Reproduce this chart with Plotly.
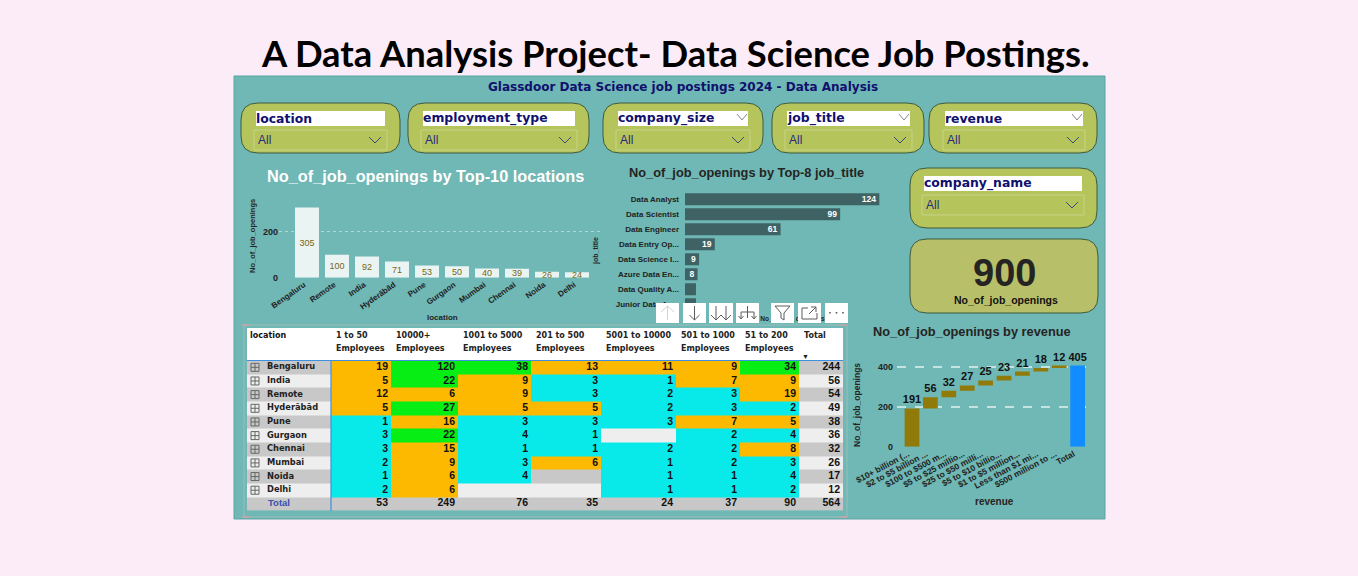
import plotly.graph_objects as go

W, H = 1358, 576

# location chart
locations = ['Bengaluru', 'Remote', 'India', 'Hyderābād', 'Pune', 'Gurgaon', 'Mumbai', 'Chennai', 'Noida', 'Delhi']
location_openings = [305, 100, 92, 71, 53, 50, 40, 39, 26, 24]

# job title chart
job_titles = ['Data Analyst', 'Data Scientist', 'Data Engineer', 'Data Entry Op...', 'Data Science I...',
              'Azure Data En...', 'Data Quality A...', 'Junior Data An...']
job_openings = [124, 99, 61, 19, 9, 8, 7, 7]

# revenue waterfall
revenue_labels = ['$10+ billion (...', '$2 to $5 billion ...', '$100 to $500 m...', '$5 to $25 millio...',
                  '$25 to $50 milli...', '$5 to $10 billio...', '$1 to $5 million...', 'Less than $1 mi...',
                  '$500 million to ...', 'Total']
revenue_openings = [191, 56, 32, 27, 25, 23, 21, 18, 12, 405]

# matrix
matrix_rows = ['Bengaluru', 'India', 'Remote', 'Hyderābād', 'Pune', 'Gurgaon', 'Chennai', 'Mumbai', 'Noida', 'Delhi']
matrix_cols = ['1 to 50', '10000+', '1001 to 5000', '201 to 500', '5001 to 10000', '501 to 1000', '51 to 200']
matrix_values = [
    [19, 120, 38, 13, 11, 9, 34],
    [5, 22, 9, 3, 1, 7, 9],
    [12, 6, 9, 3, 2, 3, 19],
    [5, 27, 5, 5, 2, 3, 2],
    [1, 16, 3, 3, 3, 7, 5],
    [3, 22, 4, 1, None, 2, 4],
    [3, 15, 1, 1, 2, 2, 8],
    [2, 9, 3, 6, 1, 2, 3],
    [1, 6, 4, None, 1, 1, 4],
    [2, 6, None, None, 1, 1, 2],
]
row_totals = [244, 56, 54, 49, 38, 36, 32, 26, 17, 12]
col_totals = [53, 249, 76, 35, 24, 37, 90]
grand_total = 564
total_openings = 900

# slicers: label, box left, box right, top, bottom, label left, label right, has chevron in header
slicers = [
    ('location', 241, 400, 103, 153, 256, 385, False),
    ('employment_type', 408, 589, 103, 153, 423, 575, False),
    ('company_size', 603, 763, 103, 153, 618, 748, True),
    ('job_title', 772, 924, 103, 153, 787, 910, True),
    ('revenue', 929, 1097, 103, 153, 945, 1083, True),
    ('company_name', 910, 1097, 168, 228, 924, 1082, False),
]

PAGE = '#fcecf8'
TEAL = '#6fb8b5'
SLICER = '#b5c55c'
NAVY = '#10106e'
INK = '#252423'
SANS = 'Liberation Sans'
WIDE = 'DejaVu Sans'


def fx(x):
    return x / W


def fy(y):
    return 1 - y / H


def rect(x0, y0, x1, y1, fill=None, line=None, width=1, layer='below', **kw):
    return dict(type='rect', xref='paper', yref='paper', x0=fx(x0), x1=fx(x1), y0=fy(y1), y1=fy(y0),
                fillcolor=fill or 'rgba(0,0,0,0)', line=dict(color=line, width=width if line else 0), layer=layer, **kw)


def poly(points, color, width=1, layer='below', close=False):
    d = 'M' + ' L'.join(f'{fx(x):.5f},{fy(y):.5f}' for x, y in points) + (' Z' if close else '')
    return dict(type='path', xref='paper', yref='paper', path=d, line=dict(color=color, width=width), layer=layer)


def rounded(x0, y0, x1, y1, r, fill, line):
    def p(x, y):
        return f'{fx(x):.5f},{fy(y):.5f}'
    d = (f'M{p(x0 + r, y0)} L{p(x1 - r, y0)} Q{p(x1, y0)} {p(x1, y0 + r)} L{p(x1, y1 - r)} Q{p(x1, y1)} {p(x1 - r, y1)} '
         f'L{p(x0 + r, y1)} Q{p(x0, y1)} {p(x0, y1 - r)} L{p(x0, y0 + r)} Q{p(x0, y0)} {p(x0 + r, y0)} Z')
    return dict(type='path', xref='paper', yref='paper', path=d, fillcolor=fill,
                line=dict(color=line, width=1), layer='below')


def note(x, y, text, size, color=INK, family=SANS, bold=True, anchor='center', angle=0):
    return dict(xref='paper', yref='paper', x=fx(x), y=fy(y), text=text, showarrow=False, textangle=angle,
                xanchor=anchor, yanchor='middle', align='left',
                font=dict(size=size, color=color, family=family, weight='bold' if bold else 'normal'))


def chevron(cx, cy, color, half=6):
    return poly([(cx - half, cy - 3), (cx, cy + 3), (cx + half, cy - 3)], color, 1)


shapes = [rect(234, 76, 1105, 519, fill=TEAL, line='#5aa6a3')]
annotations = [
    note(675, 52.5, 'A Data Analysis Project- Data Science Job Postings.', 36.4, '#000000', 'Lato'),
    note(683, 87, 'Glassdoor Data Science job postings 2024 - Data Analysis', 12, NAVY, WIDE),
    note(425, 176, 'No_of_job_openings by Top-10 locations', 16.3, '#ffffff'),
    note(746, 172, 'No_of_job_openings by Top-8 job_title', 12.8, INK),
    note(972, 331, 'No_of_job_openings by revenue', 12.8, INK),
    note(252, 236, 'No_of_job_openings', 7.5, INK, angle=-90),
    note(442, 317, 'location', 8, INK),
    note(596, 251, 'job_title', 7, INK, angle=-90),
    note(857, 405, 'No_of_job_openings', 8.5, INK, angle=-90),
    note(995, 501, 'revenue', 10, INK),
    note(1004, 273, str(total_openings), 38, INK),
    note(1006, 300, 'No_of_job_openings', 10.5, '#111111'),
]

for name, x0, x1, y0, y1, lx0, lx1, has_chev in slicers:
    shapes.append(rounded(x0, y0, x1, y1, 17, SLICER, '#3d5a40'))
    shapes.append(rect(lx0, y0 + 8, lx1, y0 + 23, fill='#ffffff'))
    shapes.append(rect(lx0 - 2, y0 + 27, lx1 + 2, y0 + 47, line='#c6d389', width=1))
    shapes.append(chevron(lx1 - 10, y0 + 37, '#3a4a7a'))
    if has_chev:
        shapes.append(chevron(lx1 - 6, y0 + 14, '#888888', 5))
    annotations.append(note(lx0 - 2, y0 + 15, name, 12.4, NAVY, WIDE, anchor='left'))
    annotations.append(note(lx0, y0 + 37, 'All', 12, '#2a2a7a', SANS, bold=False, anchor='left'))

shapes.append(rounded(910, 239, 1098, 313, 17, '#b7c068', '#3d5a40'))

# matrix header and frame
col_edges = [247, 331, 391, 458, 531, 601, 676, 740, 799, 843]
shapes.append(rect(247, 328, 843, 360, fill='#ffffff'))
annotations.append(note(248, 335.5, 'location', 8, '#111111', WIDE, anchor='left'))
for i, col in enumerate(matrix_cols):
    annotations.append(note(col_edges[i + 1] + 3, 335.5, col, 8, '#222222', WIDE, anchor='left'))
    annotations.append(note(col_edges[i + 1] + 3, 348, 'Employees', 8, '#222222', WIDE, anchor='left'))
annotations.append(note(802, 335.5, 'Total', 8, '#222222', WIDE, anchor='left'))
annotations.append(note(805, 356, '▼', 7, '#222222'))

rows_all = matrix_rows + ['Total']
row_index = list(range(len(rows_all)))
BAND_DARK, BAND_LIGHT, CYAN, ORANGE, GREEN = 0, 1, 2, 3, 4
cell_class = []
for r, row in enumerate(matrix_values):
    band = BAND_DARK if r % 2 == 0 else BAND_LIGHT
    line = [band]
    for v in row:
        if v is None:
            line.append(band)
        elif v >= 20:
            line.append(GREEN)
        elif v >= 5:
            line.append(ORANGE)
        else:
            line.append(CYAN)
    cell_class.append(line + [band])
cell_class.append([BAND_DARK] * 9)

cell_x, cell_y, cell_text = [], [], []
for r, row in enumerate(matrix_values + [col_totals]):
    row_total = (row_totals + [grand_total])[r]
    for c, v in enumerate(row + [row_total]):
        if v is not None:
            cell_x.append(col_edges[c + 2] - 3)
            cell_y.append(r)
            cell_text.append(str(v))

fig = go.Figure()

fig.add_trace(go.Bar(x=locations, y=location_openings, text=location_openings, textposition='inside',
                     insidetextanchor='middle', constraintext='none', textangle=0,
                     textfont=dict(size=9, color='#7a6510', family=SANS),
                     marker=dict(color='#e9f4f3', line=dict(width=0)), xaxis='x', yaxis='y'))

job_labels = [v if v >= 8 else '' for v in job_openings]
fig.add_trace(go.Bar(y=job_titles, x=job_openings, orientation='h', text=job_labels, textposition='inside',
                     insidetextanchor='end', constraintext='none', textangle=0,
                     textfont=dict(size=8.5, color='#ffffff', family=SANS, weight='bold'),
                     marker=dict(color='#3f6364', line=dict(width=0)), xaxis='x2', yaxis='y2'))

fig.add_trace(go.Waterfall(x=revenue_labels, y=revenue_openings, measure=['relative'] * 9 + ['total'],
                           text=revenue_openings, textposition='outside', cliponaxis=False,
                           textfont=dict(size=11, color='#111111', family=SANS, weight='bold'),
                           increasing=dict(marker=dict(color='#8f7a0a')),
                           totals=dict(marker=dict(color='#118dff')),
                           connector=dict(visible=False), constraintext='none', xaxis='x3', yaxis='y3'))

fig.add_trace(go.Heatmap(x=col_edges, y=[i - 0.5 for i in range(12)], z=cell_class, zmin=0, zmax=4, showscale=False,
                         hoverinfo='skip',
                         colorscale=[[0, '#c8c8c8'], [0.2, '#c8c8c8'], [0.2, '#eeeeee'], [0.4, '#eeeeee'],
                                     [0.4, '#08eaea'], [0.6, '#08eaea'], [0.6, '#fcb900'], [0.8, '#fcb900'],
                                     [0.8, '#06ee14'], [1, '#06ee14']],
                         xaxis='x4', yaxis='y4'))
fig.add_trace(go.Scatter(x=cell_x, y=cell_y, text=cell_text, mode='text', textposition='middle left',
                         textfont=dict(size=10.5, color='#111111', family=SANS, weight='bold'),
                         hoverinfo='skip', cliponaxis=False, xaxis='x4', yaxis='y4'))
fig.add_trace(go.Scatter(x=[267] * 10, y=row_index[:10], text=matrix_rows, mode='text', textposition='middle right',
                         textfont=dict(size=8.3, color='#222222', family=WIDE, weight='bold'),
                         hoverinfo='skip', cliponaxis=False, xaxis='x4', yaxis='y4'))
fig.add_trace(go.Scatter(x=[279], y=[10], text=['Total'], mode='text', textposition='middle center',
                         textfont=dict(size=9.5, color='#3a4fb0', family=SANS, weight='bold'),
                         hoverinfo='skip', cliponaxis=False, xaxis='x4', yaxis='y4'))
fig.add_trace(go.Scatter(x=[255] * 10, y=row_index[:10], mode='markers',
                         marker=dict(symbol='square-cross-open', size=8, color='#666666', line=dict(width=1, color='#666666')),
                         hoverinfo='skip', xaxis='x4', yaxis='y4'))

# pane selection frame
FRAME = '#9cbcb8'
shapes.append(rect(244, 325, 847, 517, line=FRAME, layer='above'))
for cx, cy in [(244, 325), (841, 325), (244, 517), (841, 517)]:
    shapes.append(rect(cx - 2, cy - 1, cx + 6, cy + 1, fill='#b9a9ae', layer='above'))
shapes.append(poly([(247, 360.5), (843, 360.5)], '#3f8fe0', 1.2, layer='above'))
shapes.append(poly([(331, 360.5), (331, 511)], '#3f8fe0', 1.2, layer='above'))

# x title of the job chart sits under the hover toolbar, so it is a shape label
shapes.append(dict(type='rect', xref='paper', yref='paper', x0=fx(755), x1=fx(830), y0=fy(323), y1=fy(313), layer='above',
                   line=dict(width=0), fillcolor='rgba(0,0,0,0)',
                   label=dict(text='No_of_job_openings', textposition='middle center',
                              font=dict(size=6.5, color=INK, family=SANS, weight='bold'))))

# hover toolbar
ICON = '#5c5c5c'
toolbar_slots = [(656, 679), (683, 706), (709, 733), (736, 759), (771, 794), (798, 821), (825, 848)]
for a, b in toolbar_slots:
    shapes.append(rect(a, 303, b, 323, fill='#ffffff', layer='above'))


def arrow_down(cx, color):
    return [poly([(cx, 306), (cx, 320)], color, 1, 'above'), poly([(cx - 5, 315), (cx, 320), (cx + 5, 315)], color, 1, 'above')]


shapes += [poly([(667.5, 320), (667.5, 306)], '#d4d4d4', 1, 'above'),
           poly([(661, 312), (667.5, 306), (674, 312)], '#d4d4d4', 1, 'above')]
shapes += arrow_down(694.5, ICON)
shapes += arrow_down(716, ICON) + arrow_down(726, ICON)
shapes += [poly([(747.5, 306), (747.5, 318)], ICON, 1, 'above'), poly([(741, 318), (741, 312), (754, 312), (754, 318)], ICON, 1, 'above'),
           poly([(738.5, 316), (741, 319), (743.5, 316)], ICON, 1, 'above'), poly([(751.5, 316), (754, 319), (756.5, 316)], ICON, 1, 'above')]
shapes.append(poly([(775, 306), (790, 306), (784, 313), (784, 320), (781, 318), (781, 313)], ICON, 1, 'above', close=True))
shapes += [poly([(808, 308), (802, 308), (802, 319), (817, 319), (817, 313)], ICON, 1, 'above'),
           poly([(809, 314), (816, 307)], ICON, 1, 'above'), poly([(811, 307), (816, 307), (816, 312)], ICON, 1, 'above')]
for dx in (830, 836.5, 843):
    shapes.append(rect(dx - 0.8, 312, dx + 0.8, 313.6, fill=ICON, layer='above'))

axis_font = dict(size=8, color='#222222', family=SANS, weight='bold')
value_font = dict(size=9, color='#222222', family=SANS, weight='bold')
grid_dot = dict(showgrid=True, gridcolor='rgba(255,255,255,0.45)', griddash='dot', gridwidth=1, zeroline=False, showline=False)

fig.update_layout(
    width=W, height=H, margin=dict(l=0, r=0, t=0, b=0), autosize=False, showlegend=False,
    paper_bgcolor=PAGE, plot_bgcolor='rgba(0,0,0,0)', bargap=0.2,
    shapes=shapes, annotations=annotations,
    xaxis=dict(domain=[fx(279), fx(600)], range=[-0.933, 9.767], anchor='y', tickangle=-35, tickfont=axis_font,
               ticklabelshift=-3, showgrid=False, zeroline=False, showline=False, ticks='', automargin=False),
    yaxis=dict(domain=[fy(277.7), fy(200)], range=[0, 338], anchor='x', tickvals=[0, 200], tickfont=value_font,
               automargin=False, **grid_dot),
    xaxis2=dict(domain=[fx(685), fx(895)], range=[0, 134], anchor='y2', visible=False, automargin=False),
    yaxis2=dict(domain=[fy(311.8), fy(191.8)], range=[7.5, -0.5], anchor='x2', tickfont=axis_font, ticklabelstandoff=5,
                showgrid=False, zeroline=False, showline=False, ticks='', automargin=False),
    xaxis3=dict(domain=[fx(897), fx(1092)], range=[-0.815, 9.78], anchor='y3', tickangle=-28,
                tickfont=dict(size=8.5, color='#222222', family=SANS, weight='bold'), ticklabelshift=-4,
                showgrid=False, zeroline=False, showline=False, ticks='', automargin=False),
    yaxis3=dict(domain=[fy(446.7), fy(350)], range=[0, 483], anchor='x3', tickvals=[0, 200, 400], tickfont=value_font,
                ticklabelstandoff=3, showgrid=True, gridcolor='rgba(255,255,255,0.6)', griddash='dash', gridwidth=1.5,
                zeroline=False, showline=False, automargin=False),
    xaxis4=dict(domain=[fx(247), fx(843)], range=[247, 843], anchor='y4', visible=False, automargin=False),
    yaxis4=dict(domain=[fy(510.7), fy(360.5)], range=[10.5, -0.5], anchor='x4', visible=False, automargin=False),
)

fig.write_html("out.html", config={"displayModeBar": False}, post_script="document.body.style.margin='0';")
